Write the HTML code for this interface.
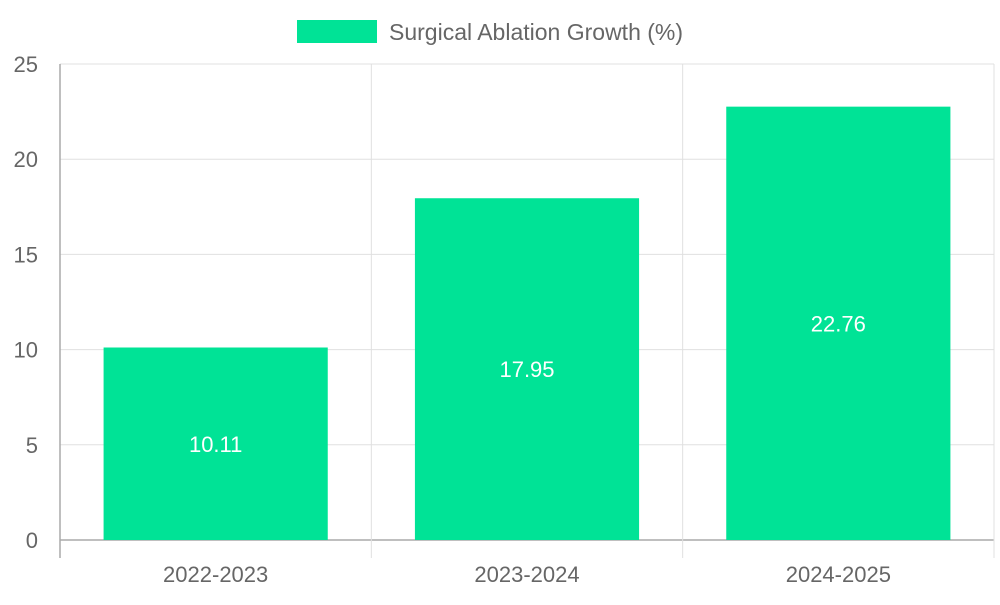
<!DOCTYPE html>
<html><head><meta charset="utf-8"><style>
body{margin:0;background:#fff;font-family:"Liberation Sans",sans-serif;}
svg text{font-family:"Liberation Sans",sans-serif;}
</style></head><body>
<svg id="c" width="1000" height="600"></svg>
<script>
const categories=["2022-2023","2023-2024","2024-2025"];
const values=[10.11,17.95,22.76];
const yTicks=[0,5,10,15,20,25];
const seriesName="Surgical Ablation Growth (%)";
const svg=document.getElementById('c');
const NS="http://www.w3.org/2000/svg";
const L=60,R=994,T=64,B=540,yMax=25;
const y=v=>B-(v/yMax)*(B-T);
const bw=(R-L)/categories.length;
const x=i=>L+bw*i;
function mk(tag,attrs,parent){const e=document.createElementNS(NS,tag);for(const k in attrs)e.setAttribute(k,attrs[k]);(parent||svg).appendChild(e);return e;}
// legend
let lg=mk('g',{});


mk('rect',{x:297,y:20,width:80,height:23,fill:'#00e396'},lg);
let lt=mk('text',{x:389,y:40,'font-size':23,fill:'#666'},lg);lt.textContent=seriesName;
// grid
yTicks.forEach(t=>{
 let g=mk('line',{x1:L,x2:R,y1:y(t),y2:y(t),stroke:t===0?'#aaa':'#e0e0e0','stroke-width':t===0?1.5:1});
 
 
 let tx=mk('text',{x:38,y:y(t)+8,'font-size':22,fill:'#666','text-anchor':'end'});
 
 
 tx.textContent=t;
});
for(let i=0;i<=categories.length;i++){
 let g=mk('line',{x1:x(i),x2:x(i),y1:T,y2:558,stroke:i===0?'#aaa':'#e0e0e0','stroke-width':i===0?1.5:1});
 
 
}
categories.forEach((c,i)=>{
 const cx=x(i)+bw/2,w=bw*0.72;
 let r=mk('rect',{x:cx-w/2,y:y(values[i]),width:w,height:B-y(values[i]),fill:'#00e396'});
 
 
 let v=mk('text',{x:cx,y:(y(values[i])+B)/2+8,'font-size':22,fill:'#fff','text-anchor':'middle'});
 
 
 v.textContent=values[i].toFixed(2);
 let t=mk('text',{x:cx,y:582,'font-size':22,fill:'#666','text-anchor':'middle'});
 
 
 t.textContent=c;
});
</script>
</body></html>
